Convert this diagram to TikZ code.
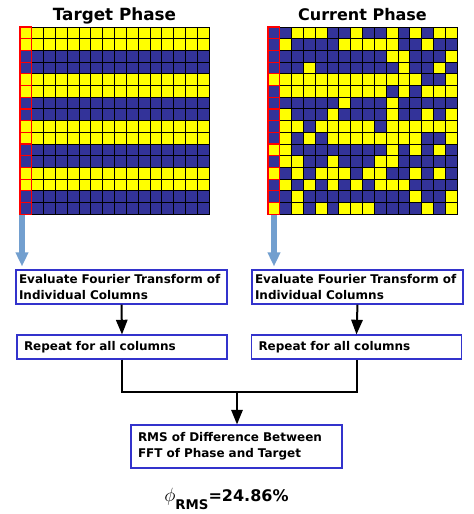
\documentclass[tikz,border=0pt]{standalone}
\usepackage{fontspec}
\setmainfont{DejaVu Sans}
\usepackage{tikz}
\usetikzlibrary{arrows.meta, calc}
\definecolor{phaseyellow}{HTML}{FFFF00}
\definecolor{phaseblue}{HTML}{333399}
\definecolor{boxblue}{HTML}{3333CC}
\definecolor{feedblue}{HTML}{729FCF}
\colorlet{cell0}{phaseblue}
\colorlet{cell1}{phaseyellow}
\newcommand{\cw}{11.82}
\newcommand{\ch}{11.7}

\begin{document}
\begin{tikzpicture}[x=0.75pt, y=-0.75pt,
  box/.style={draw=boxblue, line width=0.8pt, align=left, inner ysep=0pt,
    font=\fontsize{9}{12}\selectfont\bfseries},
  flow/.style={line width=1.5pt, -{Triangle[length=11pt,width=8.5pt]}},
  feed/.style={feedblue, line width=4.5pt, -{Triangle[length=10.5pt,width=9pt]}, shorten >=2.25pt}]
  \useasboundingbox (0,0) rectangle (474,514);
  % titles
  \node[anchor=base, font=\fontsize{12.6}{15}\selectfont\bfseries] (ttitle) at (114.5,20) {Target Phase};
  \node[anchor=base, font=\fontsize{12}{15}\selectfont\bfseries] (ctitle) at (362.5,20) {Current Phase};
  % target phase: bands of two rows
  \foreach \b [count=\r] in {1,1,0,0,1,1,0,0,1,1,0,0,1,1,0,0} {
    \foreach \c in {1,...,16}
      \filldraw[fill=cell\b, draw=black, line width=0.7pt]
        ({20+(\c-1)*\cw},{27+(\r-1)*\ch}) rectangle ++(\cw,\ch);
  }
  % current phase
  \foreach \bits [count=\r] in {
    {0,0,1,1,1,0,0,1,0,0,1,0,1,0,1,1},
    {0,1,0,0,0,0,1,1,1,1,1,0,0,1,0,0},
    {0,0,0,0,0,0,0,0,0,0,1,1,0,0,0,1},
    {0,0,0,1,0,0,0,0,0,0,0,1,0,0,1,0},
    {1,1,1,1,1,1,1,1,1,1,1,1,1,0,0,1},
    {0,1,1,1,1,1,1,1,1,1,0,1,0,1,1,1},
    {0,0,0,0,0,0,1,0,0,0,1,0,0,0,0,0},
    {0,1,0,0,0,1,0,0,0,0,1,0,0,1,0,1},
    {0,1,1,0,1,1,1,1,1,0,1,1,1,1,1,1},
    {0,1,0,1,0,1,1,1,1,1,1,1,1,0,0,1},
    {1,1,0,0,0,0,0,0,0,0,1,0,1,0,1,0},
    {0,1,1,0,0,1,0,0,0,1,1,0,0,0,0,0},
    {1,0,1,0,1,1,1,0,1,1,0,0,1,0,1,0},
    {0,1,0,1,0,1,0,1,0,1,1,1,0,0,0,0},
    {0,0,1,0,0,0,0,0,0,0,0,0,1,0,0,1},
    {1,0,1,0,1,0,1,1,1,0,0,0,0,1,0,1}} {
    \foreach \b [count=\c] in \bits
      \filldraw[fill=cell\b, draw=black, line width=0.7pt]
        ({268+(\c-1)*\cw},{27+(\r-1)*\ch}) rectangle ++(\cw,\ch);
  }
  % first columns in red
  \foreach \r in {1,...,16} {
    \draw[red, line width=0.9pt] (20,{27+(\r-1)*\ch}) rectangle ++(\cw,\ch);
    \draw[red, line width=0.9pt] (268,{27+(\r-1)*\ch}) rectangle ++(\cw,\ch);
  }
  \coordinate (tfeed) at (22,215);
  \coordinate (cfeed) at (274,215);

  \node[box, text width=153.75pt, inner xsep=2.25pt, minimum height=25.5pt] (evalT) at (121.5,287)
    {Evaluate Fourier Transform of\\Individual Columns};
  \node[box, text width=153.75pt, inner xsep=2.25pt, minimum height=25.5pt] (evalC) at (357.5,287)
    {Evaluate Fourier Transform of\\Individual Columns};
  \node[box, text width=147pt, inner xsep=5.25pt, minimum height=18pt] (repT) at (122,347)
    {Repeat for all columns};
  \node[box, text width=147pt, inner xsep=5.25pt, minimum height=18pt] (repC) at (356.5,347)
    {Repeat for all columns};
  \node[box, text width=147.75pt, inner xsep=5.25pt, minimum height=32.25pt] (rms) at (236.5,446.5)
    {RMS of Difference Between\\FFT of Phase and Target};
  \coordinate (join) at (237,392);

  \draw[feed] (tfeed) -- (tfeed |- evalT.north);
  \draw[feed] (cfeed) -- (cfeed |- evalC.north);
  \draw[flow] (evalT.south) -- (repT.north);
  \draw[flow] (evalC.south) -- (repC.north);
  \draw[line width=1.5pt] (repT.south) |- (join) -| (repC.south);
  \draw[flow] (join) -- (join |- rms.north);

  \node[anchor=base west, inner sep=0pt, font=\fontsize{12}{14}\selectfont\bfseries] (score) at (164,501)
    {{\fontsize{14}{16}\selectfont$\phi$}\raisebox{-6pt}{\fontsize{10}{12}\selectfont RMS}=24.86\%};
\end{tikzpicture}
\end{document}
